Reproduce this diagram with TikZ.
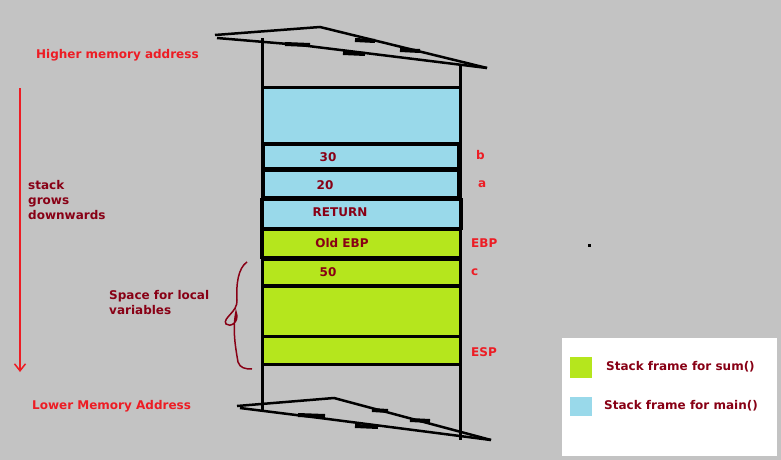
\documentclass[tikz,border=0pt]{standalone}
\usepackage{fontspec}
\usetikzlibrary{arrows.meta}
\setmainfont{DejaVu Sans}
\definecolor{bg}{HTML}{C3C3C3}
\definecolor{cy}{HTML}{99D9EA}
\definecolor{gr}{HTML}{B5E61D}
\definecolor{rd}{HTML}{ED1C24}
\definecolor{dr}{HTML}{880015}
\begin{document}
\begin{tikzpicture}[x=1pt,y=-1pt,
 cell/.style={draw=black,line width=3pt},
 lbl/.style={font=\bfseries\fontsize{12}{14}\selectfont,inner sep=0pt},
 rl/.style={lbl,text=rd,anchor=west},
 dl/.style={lbl,text=dr},
 brk/.style={line width=2.5pt}]
\fill[bg] (0,0) rectangle (781,460);
\useasboundingbox (0,0) rectangle (781,460);
% cells
\filldraw[cell,fill=cy] (262,87) rectangle (460,143);
\filldraw[cell,fill=cy] (263,144) rectangle (458,168);
\filldraw[cell,fill=cy] (263,170) rectangle (458,197);
\filldraw[cell,fill=cy] (261,199) rectangle (461,228);
\filldraw[cell,fill=gr] (261,229) rectangle (460,257);
\filldraw[cell,fill=gr] (262,259) rectangle (460,285);
\filldraw[cell,fill=gr] (262,286) rectangle (460,336);
\filldraw[cell,fill=gr] (262,336) rectangle (460,364);
\draw[cell] (262,38) -- (262,410);
\draw[cell] (460,65) -- (460,440);
% break marks top
\draw[brk] (215,35) -- (320,27) -- (487,68);
\draw[brk] (217,38) -- (300,45) -- (487,68);
\draw[brk,line width=4pt] (285,44) -- (310,45) (343,53) -- (365,54) (355,40) -- (375,41) (400,50)--(420,51);
% break marks bottom
\draw[brk] (237,406) -- (334,398) -- (491,440);
\draw[brk] (240,408) -- (320,418) -- (491,440);
\draw[brk,line width=4pt] (298,415) -- (325,416) (355,426) -- (378,427) (372,410) -- (388,411) (410,420) -- (430,421);
% cell texts
\node[dl] (t30) at (328,157) {30};
\node[dl] (t20) at (325,185) {20};
\node[dl] (tret) at (340,212) {RETURN};
\node[dl] (tebp) at (342,243) {Old EBP};
\node[dl] (t50) at (328,272) {50};
% side labels
\node[rl] (lb) at (476,155) {b};
\node[rl] (la) at (478,184) {a};
\node[rl] (lebp) at (471,243) {EBP};
\node[rl] (lc) at (471,272) {c};
\node[rl] (lesp) at (471,352) {ESP};
\node[rl] (hi) at (36,55) {Higher memory address};
\node[rl] (lo) at (32,406) {Lower Memory Address};
\node[dl,anchor=west,align=left] (sg) at (28,200) {stack\\[1pt]grows\\[1pt]downwards};
\node[dl,anchor=west,align=left] (sp) at (109,303) {Space for local\\[1pt]variables};
\coordinate (a1) at (20,88);
\coordinate (a2) at (20,372);
\draw[rd,line width=1.5pt,-{Straight Barb[length=7pt,width=11pt]}] (a1) -- (a2);
\draw[dr,line width=1.5pt] (247,262) .. controls (238,268) and (236,285) .. (237,300)
  .. controls (238,312) and (222,318) .. (226,324) .. controls (230,328) and (240,322) .. (236,312)
  .. controls (232,330) and (236,350) .. (238,362) .. controls (240,368) and (245,369) .. (252,369);
\fill[black] (588,244) rectangle (591,247);
% legend
\fill[white] (562,338) rectangle (777,456);
\fill[gr] (570,357) rectangle (592,378);
\fill[cy] (570,397) rectangle (592,416);
\node[dl,anchor=west] (lg1) at (606,367) {Stack frame for sum()};
\node[dl,anchor=west] (lg2) at (604,406) {Stack frame for main()};
\end{tikzpicture}
\end{document}
